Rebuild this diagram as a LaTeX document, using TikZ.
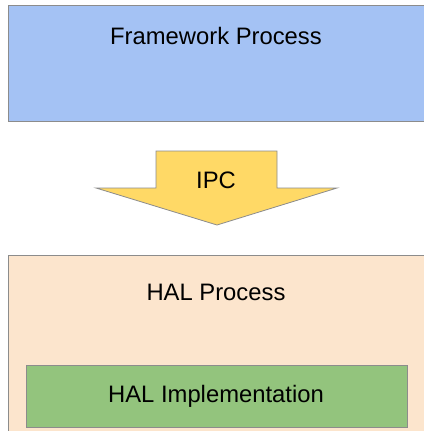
\documentclass[tikz,border=0pt]{standalone}
\usepackage{fontspec}
\setmainfont{Liberation Sans}
\definecolor{fwblue}{HTML}{A4C2F4}
\definecolor{halbg}{HTML}{FCE5CD}
\definecolor{implgreen}{HTML}{93C47D}
\definecolor{ipcyellow}{HTML}{FFD966}
\definecolor{edge}{HTML}{8C8C8C}
\begin{document}
\begin{tikzpicture}[x=1pt,y=-1pt,
  box/.style={draw=edge,line width=0.8pt},
  lbl/.style={font=\fontsize{23.8}{27}\selectfont,text=black,inner sep=0pt,anchor=center}]
\useasboundingbox (0,0) rectangle (423,431);
\fill[white] (0,0) rectangle (423,431);
% Framework process
\draw[box,fill=fwblue] (8,5) rectangle (440,121);
\node[lbl] (fw) at (216,36) {Framework Process};
% IPC arrow
\draw[box,fill=ipcyellow,line join=miter]
  (156,151) -- (277,151) -- (277,188) -- (337,188) -- (217,225) -- (96,188) -- (156,188) -- cycle;
\node[lbl] (ipc) at (216,180) {IPC};
% HAL process
\draw[box,fill=halbg] (8,255) rectangle (440,450);
\node[lbl] (hal) at (216,292) {HAL Process};
% HAL implementation
\draw[box,fill=implgreen] (26,365) rectangle (407,427);
\node[lbl] (impl) at (216,396) {HAL Implementation};
\end{tikzpicture}
\end{document}
